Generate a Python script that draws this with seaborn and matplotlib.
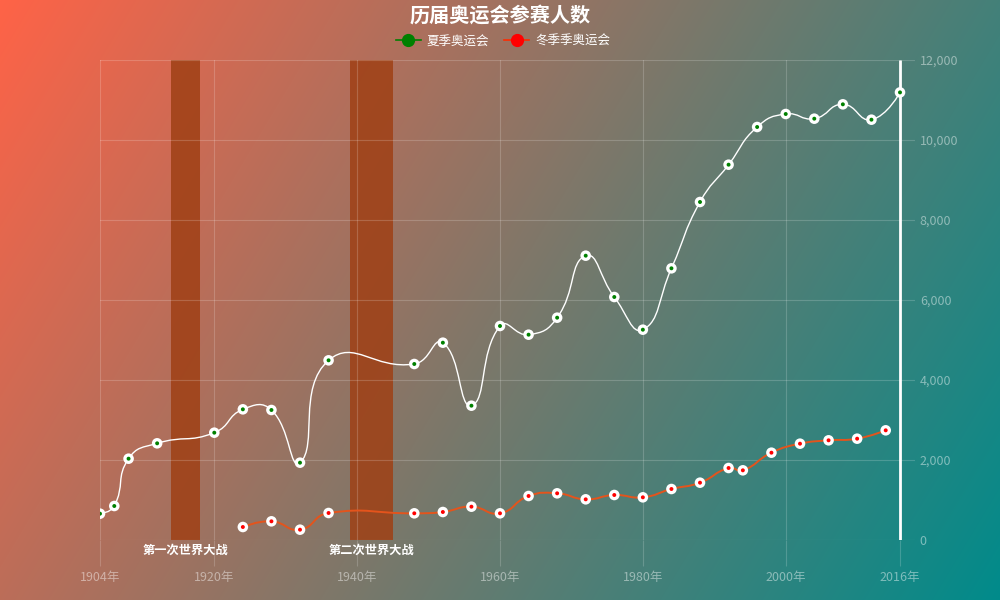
import numpy as np
import pandas as pd
import seaborn as sns
import matplotlib
matplotlib.use("Agg")
from matplotlib import pyplot as plt
from matplotlib.path import Path
from matplotlib.patches import PathPatch
from matplotlib.lines import Line2D

summer_years = [1904, 1906, 1908, 1912, 1920, 1924, 1928, 1932, 1936, 1948, 1952, 1956,
                1960, 1964, 1968, 1972, 1976, 1980, 1984, 1988, 1992, 1996, 2000, 2004,
                2008, 2012, 2016]
summer_athletes = [658, 850, 2033, 2417, 2683, 3267, 3250, 1933, 4492, 4400, 4933, 3358,
                   5350, 5133, 5558, 7108, 6075, 5258, 6792, 8450, 9383, 10325, 10650, 10533,
                   10892, 10508, 11190]
winter_years = [1924, 1928, 1932, 1936, 1948, 1952, 1956, 1960, 1964, 1968, 1972, 1976,
                1980, 1984, 1988, 1992, 1994, 1998, 2002, 2006, 2010, 2014]
winter_athletes = [325, 467, 258, 675, 667, 700, 833, 667, 1100, 1167, 1017, 1125,
                   1067, 1275, 1433, 1800, 1742, 2183, 2408, 2492, 2533, 2742]
wars = [("第一次世界大战", 1914, 1918), ("第二次世界大战", 1939, 1945)]
xtick_years = [1904, 1920, 1940, 1960, 1980, 2000, 2016]
yticks = [0, 2000, 4000, 6000, 8000, 10000, 12000]

summer_name = "夏季奥运会"
winter_name = "冬季季奥运会"
title = "历届奥运会参赛人数"

plt.rcParams['font.family'] = ['Noto Sans CJK SC', 'DejaVu Sans']

fig = plt.figure(figsize=(10, 6), dpi=100)

# diagonal gradient background
W, H = 1000, 600
gx, gy = np.meshgrid(np.arange(W), np.arange(H))
t = (gx * W + gy * H) / (W * W + H * H)
c0 = np.array([255, 99, 71]) / 255.0
c1 = np.array([0, 139, 139]) / 255.0
grad = c0[None, None, :] * (1 - t[..., None]) + c1[None, None, :] * t[..., None]
bg = fig.add_axes([0, 0, 1, 1], zorder=-5)
bg.imshow(grad, aspect='auto', extent=[0, 1, 0, 1], origin='upper')
bg.axis('off')

ax = fig.add_axes([0.1, 0.1, 0.815, 0.8])
ax.set_facecolor('none')
ax.set_axisbelow('line')

xmax = summer_years[-1] + 15 / (815 / 114.1)
ax.set_xlim(summer_years[0], xmax)
ax.set_ylim(yticks[0], yticks[-1])

lab_col = (1, 1, 1, 0.45)
ax.set_xticks(xtick_years)
ax.set_xticklabels([f"{y}年" for y in xtick_years])
ax.set_yticks(yticks)
ax.set_yticklabels([f"{v:,}" for v in yticks])
ax.yaxis.tick_right()
ax.grid(True, color='white', alpha=0.18, lw=0.8)
ax.tick_params(axis='x', length=18.5, width=0.8, color=(1, 1, 1, 0.18), labelcolor=lab_col,
               labelsize=9, pad=3.5)
ax.tick_params(axis='y', length=0, labelcolor=lab_col, labelsize=9, pad=3.5)
for s in ax.spines.values():
    s.set_visible(False)

# war periods
for name, a, b in wars:
    ax.axvspan(a, b, color='#9f4015', alpha=0.85, lw=0, zorder=1)
    ax.annotate(name, xy=((a + b) / 2, 0), xycoords=('data', 'axes fraction'),
                xytext=(0, -7.7), textcoords='offset points', ha='center', va='center',
                color='white', fontsize=8.8, fontweight='bold', annotation_clip=False)

# right axis line
ax.vlines(summer_years[-1], yticks[0], yticks[-1], color='white', lw=2, zorder=2)


def smooth_patch(xs, ys, color, lw, smooth=0.5):
    pts = ax.transData.transform(np.column_stack([xs, ys]))
    n = len(pts)
    verts = [tuple(pts[0])]
    codes = [Path.MOVETO]
    cp0 = pts[0]
    for i in range(1, n):
        p = pts[i]
        if i < n - 1:
            prev, nxt = pts[i - 1], pts[i + 1]
            v = nxt - prev
            l0 = np.hypot(*(p - prev))
            l1 = np.hypot(*(nxt - p))
            r = l1 / (l0 + l1)
            cp1 = p - v * smooth * (1 - r)
            ncp0 = p + v * smooth * r
        else:
            cp1 = p
            ncp0 = None
        verts += [tuple(cp0), tuple(cp1), tuple(p)]
        codes += [Path.CURVE4] * 3
        cp0 = ncp0
    dverts = ax.transData.inverted().transform(np.array(verts))
    patch = PathPatch(Path(dverts, codes), facecolor='none', edgecolor=color, lw=lw,
                      transform=ax.transData, zorder=3)
    ax.add_patch(patch)


smooth_patch(summer_years, summer_athletes, 'white', 1.0)
smooth_patch(winter_years, winter_athletes, '#e4541c', 1.4)

summer_df = pd.DataFrame({"year": summer_years, "athletes": summer_athletes})
winter_df = pd.DataFrame({"year": winter_years, "athletes": winter_athletes})
for df, col in [(summer_df, '#008000'), (winter_df, '#ff0000')]:
    sns.scatterplot(data=df, x="year", y="athletes", ax=ax, s=58, color='white',
                    edgecolor='none', zorder=4, legend=False)
    sns.scatterplot(data=df, x="year", y="athletes", ax=ax, s=8, color=col,
                    edgecolor='none', zorder=5, legend=False)
ax.set_xlabel("")
ax.set_ylabel("")

fig.text(0.5, 1 - 15 / 600, title, ha='center', va='center', color='white',
         fontsize=14.5, fontweight='bold')
handles = [Line2D([], [], color='#008000', marker='o', markersize=8.5, lw=1.2),
           Line2D([], [], color='#ff2a00', marker='o', markersize=8.5, lw=1.2,
                  markerfacecolor='#ff0000', markeredgecolor='#ff0000')]
leg = fig.legend(handles, [summer_name, winter_name], loc='center', ncol=2,
                 bbox_to_anchor=(0.503, 1 - 41 / 600), frameon=False, fontsize=9,
                 handlelength=2.0, columnspacing=1.2, handletextpad=0.5)
for txt in leg.get_texts():
    txt.set_color('white')

fig.savefig("out.png", dpi=100)
